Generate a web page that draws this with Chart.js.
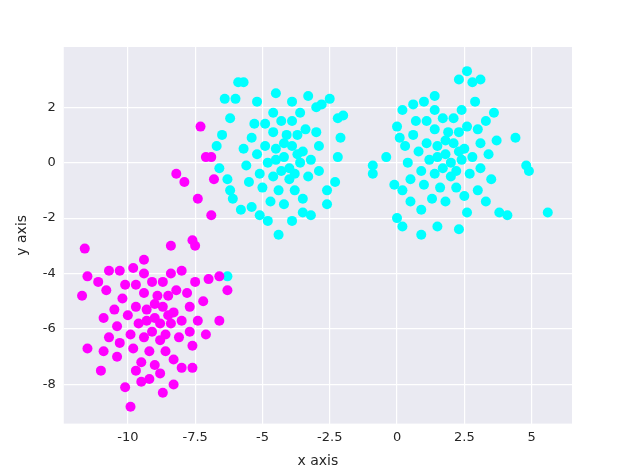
<!DOCTYPE html>
<html>
<head>
<meta charset="utf-8">
<script src="https://cdn.jsdelivr.net/npm/chart.js@4/dist/chart.umd.min.js"></script>
<style>
  html, body { margin: 0; padding: 0; background: #ffffff; }
</style>
</head>
<body>
<canvas id="chart" width="633" height="476"></canvas>
<script>
const xTicks = [-10, -7.5, -5, -2.5, 0, 2.5, 5];
const yTicks = [-8, -6, -4, -2, 0, 2];

// magenta cluster (drawn first, under cyan)
const magentaPts = [
  [-9,-5.6],[-9.3,-5.3],[-8.7,-5.2],[-9.6,-5.8],[-8.4,-5.8],[-9.1,-6.1],[-8.8,-6.4],[-9.4,-6.3],[-8.3,-5.4],
  [-9.7,-5.2],[-8.9,-4.8],[-9.4,-4.7],[-8.5,-4.8],[-10,-5.5],[-9.9,-6.2],[-8,-5.7],[-8.1,-6.3],[-9.2,-6.8],
  [-8.6,-6.8],[-9.8,-6.7],[-10.2,-4.9],[-8.2,-4.6],[-9.1,-4.3],[-9.7,-4.4],[-8.7,-4.3],[-10.4,-5.9],[-7.7,-5.2],
  [-7.7,-6.1],[-8.3,-7.1],[-9.5,-7.2],[-10.3,-6.5],[-10.5,-5.3],[-7.8,-4.7],[-9,-7.3],[-10.1,-4.4],[-8.4,-4.0],
  [-9.4,-4.0],[-8.8,-5.8],[-9.3,-5.7],[-8.5,-5.5],[-9,-5.1],[-8.6,-6.2],[-10.8,-4.6],[-10.9,-5.6],[-10.7,-6.3],
  [-10.9,-6.8],[-10.4,-7.0],[-7.4,-5.7],[-7.2,-5.0],[-7.5,-4.3],[-8.0,-3.9],[-9.8,-3.8],[-10.3,-3.9],[-7.6,-6.6],
  [-8.0,-7.4],[-8.8,-7.6],[-9.7,-7.5],
  [-11.6,-3.1],[-11.5,-4.1],[-11.7,-4.8],[-11.5,-6.7],[-11,-7.5],[-10.1,-8.1],[-9.9,-8.8],[-9.5,-7.9],[-9.2,-7.8],
  [-8.7,-8.3],[-8.3,-8],[-7.6,-7.4],[-7.1,-6.2],[-6.6,-5.7],[-6.3,-4.6],[-6.6,-4.1],[-7.6,-2.8],[-7.5,-3.0],
  [-8.4,-3.0],[-9.4,-3.5],[-10.7,-3.9],[-11.1,-4.3],[-7.3,1.3],[-7.1,0.2],[-6.9,0.2],[-6.8,-0.6],[-7.4,-1.3],
  [-6.9,-1.9],[-8.2,-0.4],[-7.9,-0.7],[-7.0,-4.2]
];

const cyanLeftPts = [
  [-4.2,0.2],[-4.5,0.5],[-3.9,0.6],[-4.8,0],[-3.6,0],[-4.3,-0.3],[-4,-0.6],[-4.6,-0.5],[-3.5,0.4],[-4.9,0.6],
  [-4.1,1],[-4.6,1.1],[-3.7,1],[-5.2,0.3],[-5.1,-0.4],[-3.2,0.1],[-3.3,-0.5],[-4.4,-1],[-3.8,-1],[-5,-0.9],
  [-5.4,0.9],[-3.4,1.2],[-4.3,1.5],[-4.9,1.4],[-3.9,1.5],[-5.6,-0.1],[-2.9,0.6],[-2.9,-0.3],[-3.5,-1.3],
  [-4.7,-1.4],[-5.5,-0.7],[-5.7,0.5],[-3,1.1],[-4.2,-1.5],[-5.3,1.4],[-3.6,1.8],[-4.6,1.8],[-4.0,-0.2],
  [-4.5,0.1],[-3.7,0.3],[-4.2,0.7],[-3.8,-0.4],
  [-5.9,2.9],[-5.7,2.9],[-6.2,1.6],[-6.5,1.0],[-6.6,-0.2],[-6.3,-0.6],[-6.1,-1.3],[-5.8,-1.7],[-5.1,-1.9],
  [-4.4,-2.6],[-3.9,-2.1],[-3.2,-1.9],[-2.6,-1.5],[-2.3,-0.7],[-2.2,0.2],[-2.1,0.9],[-2.2,1.6],[-2.8,2.1],
  [-3.3,2.4],[-3.9,2.2],[-4.5,2.5],[-5.2,2.2],[-6.4,2.3],[-2.6,-1.0],[-6.7,0.6],[-2.0,1.7],[-3,2.0],
  [-6.2,-1.0],[-5.4,-1.6],[-4.8,-2.1],[-3.5,-1.8],[-6.0,2.3],[-2.5,2.3],[-6.3,-4.1]
];

const cyanRightPts = [
  [1.8,0.3],[1.5,0.6],[2.1,0.7],[1.2,0.1],[2.4,0.1],[1.7,-0.2],[2,-0.5],[1.4,-0.4],[2.5,0.5],[1.1,0.7],
  [1.9,1.1],[1.4,1.2],[2.3,1.1],[0.8,0.4],[0.9,-0.3],[2.8,0.2],[2.7,-0.4],[1.6,-0.9],[2.2,-0.9],[1,-0.8],
  [0.6,1],[2.6,1.3],[1.7,1.6],[1.1,1.5],[2.1,1.6],[0.4,0],[3.1,0.7],[3.1,-0.2],[2.5,-1.2],[1.3,-1.3],
  [0.5,-0.6],[0.3,0.6],[3,1.2],[1.8,-1.4],[0.7,1.5],[2.4,1.9],[1.4,1.9],[2,0],[1.5,0.2],[2.3,0.4],
  [1.8,0.8],[2.2,-0.3],[3.4,0.3],[3.5,-0.6],[3.3,1.5],[0.2,-1.0],[0.5,-1.4],[3.0,-1.0],[0.1,0.9],
  [3.7,0.8],[2.9,2.2],[1.0,2.2],
  [5.6,-1.8],[4.9,-0.3],[4.8,-0.1],[4.1,-1.9],[3.8,-1.8],[4.4,0.9],[3.6,1.8],[2.6,3.3],[2.3,3],[3.1,3.0],
  [2.8,2.9],[-0.9,-0.1],[-0.9,-0.4],[-0.4,0.2],[-0.1,-0.8],[0,-2.0],[0.2,-2.3],[0.9,-2.6],[0.9,-1.7],
  [1.5,-2.3],[2.3,-2.4],[2.6,-1.8],[3.3,-1.4],[0.2,1.9],[0.6,2.1],[1.4,2.4],[0,1.3]
];

const toXY = (pts) => pts.map(([x, y]) => ({ x, y }));

const bgPlugin = {
  id: "plotBg",
  beforeDraw(chart) {
    const { ctx, chartArea: a } = chart;
    ctx.save();
    ctx.fillStyle = "#eaeaf2";
    ctx.fillRect(a.left, a.top, a.right - a.left, a.bottom - a.top);
    ctx.restore();
  },
};

const font = { family: "DejaVu Sans", size: 13 };
const dot = (color) => ({
  backgroundColor: color, borderColor: color, pointRadius: 5, pointHoverRadius: 5, borderWidth: 0,
});

new Chart(document.getElementById("chart"), {
  type: "scatter",
  data: {
    datasets: [
      { data: toXY(magentaPts), ...dot("#ff00ff") },
      { data: toXY(cyanLeftPts), ...dot("#00ffff") },
      { data: toXY(cyanRightPts), ...dot("#00ffff") },
    ],
  },
  options: {
    responsive: false,
    animation: false,
    devicePixelRatio: 1,
    layout: { padding: { top: 47, right: 61, left: 10, bottom: 4 } },
    plugins: { legend: { display: false }, tooltip: { enabled: false } },
    scales: {
      x: {
        type: "linear", min: -12.38, max: 6.5,
        afterBuildTicks: (s) => { s.ticks = xTicks.map((v) => ({ value: v })); },
        grid: { color: "#ffffff", lineWidth: 1.2, drawTicks: false },
        border: { display: false },
        ticks: { color: "#262626", font, padding: 6 },
        title: { display: true, text: "x axis", color: "#262626", font: { family: "DejaVu Sans", size: 14 }, padding: 2 },
      },
      y: {
        type: "linear", min: -9.41, max: 4.17,
        afterBuildTicks: (s) => { s.ticks = yTicks.map((v) => ({ value: v })); },
        grid: { color: "#ffffff", lineWidth: 1.2, drawTicks: false },
        border: { display: false },
        ticks: { color: "#262626", font, padding: 8 },
        title: { display: true, text: "y axis", color: "#262626", font: { family: "DejaVu Sans", size: 14 }, padding: 4 },
      },
    },
  },
  plugins: [bgPlugin],
});
</script>
</body>
</html>
